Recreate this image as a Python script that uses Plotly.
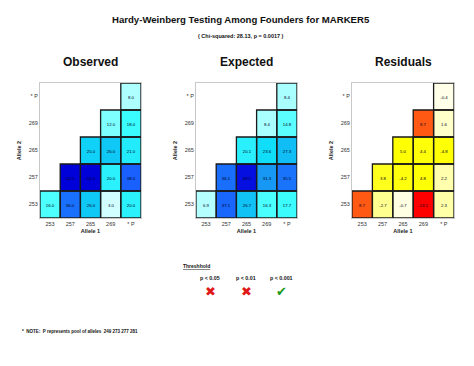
import plotly.graph_objects as go

alleles = ["253", "257", "265", "269", "* P"]

# rows = Allele 2 (bottom to top), cols = Allele 1 ; None = empty cell
observed = [
    [16.0, 36.0, 26.0, 3.0, 20.0],
    [None, 52.0, 52.0, 20.0, 38.0],
    [None, None, 25.0, 26.0, 21.0],
    [None, None, None, 12.0, 18.0],
    [None, None, None, None, 8.0],
]
expected = [
    [6.9, 37.1, 26.7, 16.3, 17.7],
    [None, 36.1, 49.5, 31.3, 35.5],
    [None, None, 20.1, 23.6, 27.3],
    [None, None, None, 8.4, 14.8],
    [None, None, None, None, 8.4],
]
residuals = [
    [8.7, -2.7, -0.7, -13.1, 2.3],
    [None, 3.8, -4.2, 4.8, 2.2],
    [None, None, 5.0, 4.4, -4.8],
    [None, None, None, 8.7, 1.6],
    [None, None, None, None, -0.4],
]

title = "Hardy-Weinberg Testing Among Founders for MARKER5"
subtitle = "( Chi-squared: 28.13, p = 0.0017 )"
panel_titles = ["Observed", "Expected", "Residuals"]
thresholds = ["p < 0.05", "p < 0.01", "p < 0.001"]
threshold_pass = [False, False, True]
note = "*  NOTE:  P represents pool of alleles  249 273 277 281"

W, H = 474, 366
FONT = "Liberation Sans, Arial, sans-serif"

blue_scale = [
    [0.0, "#e6ffff"], [0.15, "#b0ffff"], [0.33, "#40ffff"], [0.45, "#10e0f8"],
    [0.52, "#10bff5"], [0.62, "#1890f5"], [0.72, "#1a64ff"], [0.85, "#1030f0"],
    [1.0, "#0000d8"],
]
res_scale = [
    [0.0, "#fffff0"], [0.1, "#ffffd8"], [0.2, "#ffff98"], [0.3, "#ffff10"],
    [0.4, "#ffff00"], [0.5, "#ffd000"], [0.66, "#ff5a14"], [1.0, "#ff0000"],
]

def fmt(v):
    return "" if v is None else f"{v:.1f}"

# panel placement in pixels
panels_px = [(40, 141), (196, 297), (352, 454)]
y_top, y_bot = 83, 218

fig = go.Figure()
datasets = [observed, expected, residuals]
for i, data in enumerate(datasets):
    ax = "" if i == 0 else str(i + 1)
    if i < 2:
        z = data
        cs, zmin, zmax = blue_scale, 0, 52
    else:
        z = [[None if v is None else abs(v) for v in row] for row in data]
        cs, zmin, zmax = res_scale, 0, 13.1
    text = [[fmt(v) for v in row] for row in data]
    fig.add_trace(go.Heatmap(
        z=z, x=list(range(len(alleles))), y=list(range(len(alleles))),
        text=text, texttemplate="%{text}", textfont=dict(size=4.3, color="#000020", family=FONT),
        colorscale=cs, zmin=zmin, zmax=zmax, showscale=False, hoverongaps=False,
        xaxis="x" + ax, yaxis="y" + ax,
    ))
    # cell borders
    bx, by = [], []
    for r, row in enumerate(data):
        for c, v in enumerate(row):
            if v is None:
                continue
            bx += [c - 0.5, c + 0.5, c + 0.5, c - 0.5, c - 0.5, None]
            by += [r - 0.5, r - 0.5, r + 0.5, r + 0.5, r - 0.5, None]
    fig.add_trace(go.Scatter(x=bx, y=by, mode="lines", line=dict(color="#1a1a1a", width=1.3),
                             hoverinfo="skip", showlegend=False, xaxis="x" + ax, yaxis="y" + ax))

layout = dict(
    width=W, height=H, margin=dict(l=0, r=0, t=0, b=0),
    paper_bgcolor="white", plot_bgcolor="white", showlegend=False,
    font=dict(family=FONT, color="#222"),
)
for i, (x0, x1) in enumerate(panels_px):
    ax = "" if i == 0 else str(i + 1)
    layout["xaxis" + ax] = dict(
        domain=[x0 / W, x1 / W], range=[-0.5, 4.5], tickvals=list(range(5)), ticktext=alleles,
        tickfont=dict(size=5.5, color="#333"), showgrid=False, zeroline=False, ticks="",
        showline=True, mirror=True, linecolor="#c8c8c8", linewidth=1,
        title=dict(text="<b>Allele 1</b>", font=dict(size=5.5, color="#222"), standoff=3),
        anchor="y" + ax, fixedrange=True,
    )
    layout["yaxis" + ax] = dict(
        domain=[1 - y_bot / H, 1 - y_top / H], range=[-0.5, 4.5], tickvals=list(range(5)), ticktext=alleles,
        tickfont=dict(size=5.5, color="#333"), showgrid=False, zeroline=False, ticks="",
        showline=True, mirror=True, linecolor="#c8c8c8", linewidth=1,
        title=dict(text="<b>Allele 2</b>", font=dict(size=5.5, color="#222"), standoff=6),
        anchor="x" + ax, fixedrange=True,
    )
fig.update_layout(**layout)

def pa(text, x, y, size, color="#111", xanchor="center", family=None):
    f = dict(size=size, color=color)
    if family:
        f["family"] = family
    return dict(text=text, x=x / W, y=1 - y / H, xref="paper", yref="paper", showarrow=False,
                xanchor=xanchor, yanchor="middle", font=f)

ann = []
ann.append(pa(f"<b>{title}</b>", 241, 20, 9.6))
ann.append(pa(f"<b>{subtitle}</b>", 241, 36, 5.5))
for (x0, x1), t in zip(panels_px, panel_titles):
    ann.append(pa(f"<b>{t}</b>", (x0 + x1) / 2, 62, 12))
ann.append(pa("<b><u>Threshhold</u></b>", 196, 266, 5))
tx = [210, 246, 281]
for x, t, ok in zip(tx, thresholds, threshold_pass):
    ann.append(pa(f"<b>{t}</b>", x, 278, 5.3))
    ann.append(pa("✔" if ok else "✖", x, 291, 13,
                  color="#1a9a1a" if ok else "#e01818", family="DejaVu Sans"))
ann.append(pa(f"<b>{note}</b>", 20, 331, 4.5, xanchor="left"))
fig.update_layout(annotations=ann)

fig.write_html(
    "out.html",
    config={"displayModeBar": False},
    post_script="document.body.style.margin='0';document.body.style.overflow='hidden';",
)
